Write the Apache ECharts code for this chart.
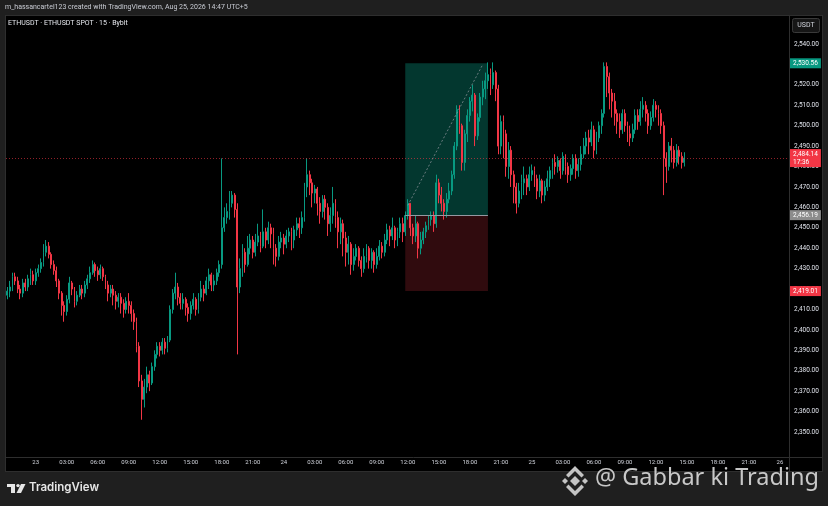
<!DOCTYPE html>
<html>
<head>
<meta charset="utf-8">
<script src="https://cdn.jsdelivr.net/npm/echarts@6/dist/echarts.min.js"></script>
<style>
  html, body { margin: 0; padding: 0; background: #1f1f1f; }
  #panel { position: absolute; left: 5px; top: 15px; width: 816px; height: 455px; background: #000; border: 1px solid #2e2e2e; }
  #chart { position: absolute; left: 0; top: 0; width: 828px; height: 506px; }
</style>
</head>
<body>
<div id="panel"></div>
<div id="chart"></div>
<script>
// 15 minute candles, Aug 22 21:15 -> Aug 25 14:45
const firstOpen = 2417;
const closes = [2419,
  2421, 2426, 2424, 2420, 2418, 2423, 2421, 2425, 2427, 2424,
  2428, 2430, 2433, 2438, 2441, 2437, 2432, 2429, 2424, 2418,
  2412, 2409, 2415, 2423, 2420, 2414, 2417, 2420, 2418, 2422,
  2425, 2428, 2432, 2429, 2427, 2430, 2426, 2422, 2418, 2420,
  2417, 2414, 2416, 2413, 2410, 2414, 2412, 2408, 2404, 2392,
  2375, 2366, 2372, 2378, 2374, 2382, 2388, 2392, 2390, 2394,
  2391, 2395, 2410, 2418, 2421, 2416, 2413, 2415, 2411, 2408,
  2412, 2415, 2410, 2416, 2420, 2418, 2424, 2427, 2422, 2424,
  2428, 2432, 2450, 2455, 2458, 2462, 2466, 2459, 2421, 2430,
  2438, 2432, 2440, 2444, 2438, 2443, 2446, 2441, 2448, 2444,
  2450, 2447, 2440, 2436, 2443, 2445, 2442, 2446, 2448, 2444,
  2449, 2452, 2450, 2455, 2470, 2476, 2472, 2467, 2469, 2462,
  2458, 2464, 2460, 2452, 2456, 2462, 2455, 2448, 2452, 2445,
  2438, 2442, 2432, 2436, 2440, 2434, 2430, 2436, 2440, 2434,
  2438, 2432, 2436, 2441, 2438, 2444, 2449, 2446, 2450, 2444,
  2448, 2452, 2448, 2456, 2462, 2450, 2446, 2452, 2440, 2444,
  2448, 2451, 2454, 2456, 2452, 2472, 2466, 2462, 2458, 2464,
  2468, 2476, 2490, 2508, 2500, 2482, 2496, 2505, 2512, 2515,
  2495, 2504, 2514, 2518, 2522, 2525, 2520, 2526, 2518, 2490,
  2502, 2496, 2480, 2488, 2476, 2470, 2462, 2468, 2472, 2474,
  2470, 2476, 2478, 2474, 2468, 2473, 2466, 2470, 2474, 2478,
  2482, 2480, 2483, 2478, 2485, 2480, 2476, 2479, 2484, 2478,
  2481, 2486, 2490, 2494, 2492, 2498, 2488, 2494, 2500, 2506,
  2529, 2524, 2516, 2512, 2506, 2502, 2498, 2506, 2500, 2496,
  2494, 2498, 2505, 2502, 2508, 2510, 2506, 2500, 2504, 2510,
  2508, 2506, 2500, 2484, 2480, 2490, 2488, 2482, 2488, 2485,
  2482, 2484.14];
const highs = [2421,
  2424, 2428, 2428, 2426, 2422, 2425, 2425, 2427, 2430, 2429,
  2430, 2432, 2435, 2442, 2444, 2443, 2438, 2434, 2431, 2425,
  2419, 2414, 2417, 2426, 2424, 2421, 2419, 2422, 2422, 2424,
  2427, 2431, 2434, 2433, 2431, 2432, 2431, 2427, 2424, 2422,
  2422, 2419, 2418, 2418, 2415, 2416, 2418, 2414, 2410, 2406,
  2394, 2378, 2376, 2382, 2380, 2384, 2390, 2394, 2394, 2396,
  2396, 2397, 2412, 2420, 2428, 2423, 2418, 2418, 2416, 2413,
  2414, 2418, 2416, 2418, 2424, 2422, 2426, 2430, 2428, 2427,
  2430, 2434, 2484, 2460, 2462, 2468, 2468, 2467, 2462, 2435,
  2442, 2440, 2446, 2447, 2446, 2447, 2452, 2448, 2459, 2450,
  2453, 2452, 2450, 2442, 2446, 2448, 2447, 2449, 2450, 2450,
  2451, 2455, 2455, 2458, 2472, 2484, 2478, 2474, 2471, 2470,
  2465, 2466, 2466, 2462, 2460, 2470, 2464, 2458, 2455, 2454,
  2448, 2446, 2443, 2440, 2442, 2441, 2436, 2440, 2442, 2441,
  2440, 2439, 2440, 2444, 2443, 2447, 2452, 2451, 2455, 2451,
  2450, 2455, 2455, 2458, 2464, 2462, 2452, 2456, 2453, 2448,
  2450, 2453, 2456, 2458, 2458, 2476, 2474, 2470, 2464, 2467,
  2472, 2478, 2492, 2510, 2510, 2501, 2498, 2508, 2514, 2520,
  2516, 2506, 2516, 2522, 2526, 2531, 2528, 2531, 2527, 2520,
  2505, 2505, 2498, 2492, 2490, 2478, 2472, 2472, 2476, 2480,
  2476, 2480, 2481, 2480, 2476, 2476, 2474, 2473, 2478, 2480,
  2484, 2486, 2485, 2484, 2487, 2486, 2482, 2481, 2486, 2486,
  2484, 2490, 2494, 2497, 2498, 2502, 2500, 2497, 2502, 2508,
  2531, 2531, 2526, 2518, 2516, 2508, 2506, 2508, 2508, 2502,
  2500, 2501, 2508, 2508, 2512, 2514, 2512, 2508, 2507, 2513,
  2512, 2510, 2508, 2502, 2487, 2492, 2494, 2490, 2491, 2490,
  2487, 2487];
const lows = [2415,
  2416, 2419, 2422, 2418, 2415, 2416, 2419, 2419, 2422, 2422,
  2422, 2426, 2428, 2431, 2436, 2435, 2430, 2427, 2421, 2415,
  2407, 2404, 2407, 2413, 2417, 2411, 2412, 2416, 2415, 2416,
  2420, 2423, 2427, 2426, 2424, 2425, 2424, 2420, 2414, 2416,
  2412, 2410, 2411, 2408, 2406, 2408, 2408, 2404, 2400, 2389,
  2372, 2356, 2362, 2369, 2370, 2373, 2380, 2386, 2387, 2388,
  2388, 2389, 2394, 2408, 2415, 2412, 2410, 2410, 2407, 2404,
  2405, 2410, 2407, 2408, 2414, 2414, 2417, 2420, 2419, 2419,
  2422, 2426, 2430, 2448, 2452, 2454, 2460, 2455, 2388, 2418,
  2426, 2428, 2431, 2437, 2435, 2436, 2441, 2438, 2440, 2440,
  2442, 2440, 2432, 2431, 2434, 2440, 2437, 2440, 2443, 2439,
  2440, 2446, 2445, 2447, 2453, 2465, 2466, 2460, 2462, 2456,
  2452, 2455, 2454, 2446, 2448, 2452, 2450, 2440, 2442, 2436,
  2431, 2432, 2427, 2429, 2434, 2431, 2426, 2428, 2433, 2430,
  2430, 2428, 2430, 2434, 2435, 2436, 2442, 2441, 2444, 2440,
  2441, 2445, 2443, 2446, 2454, 2446, 2442, 2443, 2435, 2437,
  2442, 2445, 2449, 2451, 2448, 2450, 2462, 2458, 2454, 2455,
  2462, 2466, 2474, 2488, 2496, 2478, 2478, 2492, 2502, 2507,
  2490, 2493, 2502, 2510, 2513, 2518, 2515, 2518, 2512, 2486,
  2486, 2484, 2475, 2474, 2470, 2462, 2457, 2460, 2464, 2466,
  2466, 2468, 2473, 2470, 2464, 2465, 2462, 2463, 2468, 2470,
  2474, 2476, 2477, 2474, 2476, 2476, 2472, 2473, 2476, 2474,
  2475, 2478, 2484, 2486, 2486, 2490, 2484, 2486, 2492, 2496,
  2504, 2514, 2508, 2504, 2500, 2496, 2494, 2496, 2497, 2492,
  2490, 2492, 2496, 2498, 2500, 2504, 2502, 2496, 2498, 2502,
  2504, 2500, 2496, 2466, 2472, 2478, 2482, 2479, 2480, 2481,
  2479, 2480];

const tickLabels = ['23', '03:00', '06:00', '09:00', '12:00', '15:00', '18:00', '21:00',
  '24', '03:00', '06:00', '09:00', '12:00', '15:00', '18:00', '21:00',
  '25', '03:00', '06:00', '09:00', '12:00', '15:00', '18:00', '21:00', '26'];
const firstTick = 11;   // slot of Aug 23 00:00
const ticksEvery = 12;  // 3 hours of 15m slots
const slotCount = 303;  // includes empty space on the right

// position tool
const takeProfit = 2530.56;
const entry = 2456.19;
const stopLoss = 2419.01;
const lastPrice = 2484.14;

const categories = [];
const start = Date.UTC(2026, 7, 22, 21, 15);
for (let i = 0; i < slotCount; i++) {
  const d = new Date(start + i * 15 * 60000);
  categories.push(d.toISOString().slice(0, 16));
}

const candles = [];
let prev = firstOpen;
for (let i = 0; i < closes.length; i++) {
  const o = prev, c = closes[i];
  candles.push([o, c, Math.min(lows[i], o, c), Math.max(highs[i], o, c)]);
  prev = c;
}

function price(v) {
  return v.toLocaleString('en-US', { minimumFractionDigits: 2, maximumFractionDigits: 2 });
}

const UP = '#089981', DOWN = '#f23645';
const FONT = 'Roboto, "Noto Sans", sans-serif';

function tagLabel(text, bg) {
  return {
    show: true, position: 'end', distance: 1,
    formatter: text,
    backgroundColor: bg, color: '#fff',
    fontSize: 6.5, fontFamily: FONT, padding: [1, 3], lineHeight: 8
  };
}

function axisTag(value, bg) {
  return {
    yAxis: value,
    lineStyle: { color: 'rgba(0,0,0,0)', width: 0.1 },
    label: tagLabel(price(value), bg)
  };
}

const chart = echarts.init(document.getElementById('chart'));
chart.setOption({
  animation: false,
  grid: { left: 6, right: 39, top: 13.37, height: 449.26 },
  xAxis: {
    type: 'category',
    data: categories,
    boundaryGap: true,
    axisLine: { show: false },
    axisTick: { show: false },
    splitLine: { show: false },
    axisLabel: {
      color: '#d1d4dc', fontSize: 6, fontFamily: FONT, margin: -3,
      interval: (i) => i >= firstTick && (i - firstTick) % ticksEvery === 0,
      formatter: (v, i) => tickLabels[(i - firstTick) / ticksEvery] || ''
    }
  },
  yAxis: {
    type: 'value',
    position: 'right',
    min: 2335, max: 2555, interval: 5,
    axisLine: { show: false },
    axisTick: { show: false },
    splitLine: { show: false },
    axisLabel: {
      color: '#e0e3eb', fontSize: 6.5, fontFamily: FONT, margin: 5,
      formatter: (v) => (v % 10 === 0 && v >= 2350 && v <= 2540) ? price(v) : ''
    }
  },
  series: [{
    type: 'candlestick',
    data: candles,
    barWidth: 1.4,
    itemStyle: {
      color: UP, color0: DOWN, borderColor: UP, borderColor0: DOWN, borderWidth: 1
    },
    markArea: {
      silent: true,
      data: [
        [{ coord: [154, takeProfit], itemStyle: { color: 'rgba(8,153,129,0.36)' } }, { coord: [186, entry] }],
        [{ coord: [154, entry], itemStyle: { color: 'rgba(242,54,69,0.2)' } }, { coord: [186, stopLoss] }]
      ]
    },
    markLine: {
      silent: true,
      symbol: ['none', 'none'],
      animation: false,
      data: [
        {
          yAxis: lastPrice,
          lineStyle: { color: 'rgba(242,54,69,0.6)', type: [1, 2], width: 1 },
          label: tagLabel(price(lastPrice) + '\n17:36', DOWN)
        },
        axisTag(takeProfit, UP),
        axisTag(entry, '#8c8c8c'),
        axisTag(stopLoss, DOWN),
        [
          { coord: [154, entry], lineStyle: { color: '#9598a1', width: 1, type: 'solid' }, label: { show: false } },
          { coord: [186, entry] }
        ],
        [
          { coord: [155, 2461], lineStyle: { color: 'rgba(149,152,161,0.7)', width: 1, type: [2, 2] }, label: { show: false } },
          { coord: [184, 2530] }
        ]
      ]
    }
  }],
  graphic: [
    { type: 'line', shape: { x1: 789.5, y1: 15, x2: 789.5, y2: 471 }, style: { stroke: '#2e2e2e', lineWidth: 1 } },
    { type: 'line', shape: { x1: 5, y1: 457.5, x2: 822, y2: 457.5 }, style: { stroke: '#2e2e2e', lineWidth: 1 } },
    { type: 'text', left: 5, top: 4, style: { text: 'm_hassancartel123 created with TradingView.com, Aug 25, 2026 14:47 UTC+5', fill: '#c9ccd4', fontSize: 7, fontFamily: FONT } },
    { type: 'text', left: 8, top: 20, style: { text: 'ETHUSDT · ETHUSDT SPOT · 15 · Bybit', fill: '#e6e8ee', fontSize: 7, fontFamily: FONT } },
    { type: 'rect', shape: { x: 792.5, y: 18.5, width: 27, height: 14, r: 2 }, style: { fill: '#161616', stroke: '#3a3a3a', lineWidth: 1 } },
    { type: 'text', x: 806, y: 25.5, style: { text: 'USDT', fill: '#d1d4dc', fontSize: 7, fontFamily: FONT, align: 'center', verticalAlign: 'middle' } },
    // TradingView logo
    { type: 'rect', shape: { x: 7, y: 484, width: 8, height: 3 }, style: { fill: '#e6e6e6' } },
    { type: 'rect', shape: { x: 11, y: 484, width: 4, height: 9 }, style: { fill: '#e6e6e6' } },
    { type: 'circle', shape: { cx: 18, cy: 485.6, r: 1.7 }, style: { fill: '#e6e6e6' } },
    { type: 'polygon', shape: { points: [[21, 484], [25.5, 484], [21, 493], [16.5, 493]] }, style: { fill: '#e6e6e6' } },
    { type: 'text', left: 29, top: 481.5, style: { text: 'TradingView', fill: '#e6e6e6', fontSize: 11.5, fontWeight: 600, fontFamily: 'Inter, Roboto, sans-serif' } },
    // watermark
    { type: 'polygon', shape: { points: [[575, 476], [580, 481], [575, 486], [570, 481]] }, style: { fill: '#c4c4c4' } },
    { type: 'polygon', shape: { points: [[565, 478], [568, 481], [565, 484], [562, 481]] }, style: { fill: '#c4c4c4' } },
    { type: 'polygon', shape: { points: [[585, 478], [588, 481], [585, 484], [582, 481]] }, style: { fill: '#c4c4c4' } },
    { type: 'polygon', shape: { points: [[575, 466], [584, 475], [581.5, 477.5], [575, 471], [568.5, 477.5], [566, 475]] }, style: { fill: '#c4c4c4' } },
    { type: 'polygon', shape: { points: [[575, 496], [584, 487], [581.5, 484.5], [575, 491], [568.5, 484.5], [566, 487]] }, style: { fill: '#c4c4c4' } },
    { type: 'text', left: 595, top: 466, style: { text: '@ Gabbar ki Trading', fill: 'rgba(215,215,215,0.92)', fontSize: 23.5, fontFamily: '"Noto Sans", sans-serif' } }
  ]
});
</script>
</body>
</html>
